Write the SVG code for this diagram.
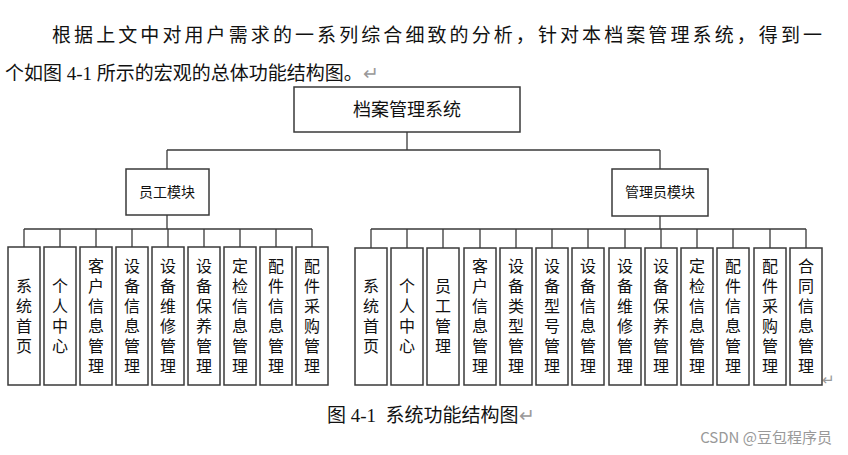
<svg xmlns="http://www.w3.org/2000/svg" width="848" height="455" viewBox="0 0 848 455">
<style>
.b{fill:#fff;stroke:#3a3a3a;stroke-width:1.5}
.c{fill:none;stroke:#3a3a3a;stroke-width:1.3}
.t{font-family:"Liberation Serif","Noto Sans CJK SC",serif;fill:#111}
.l{font-family:"Noto Sans CJK SC",sans-serif;font-size:16px;fill:#111;text-anchor:middle;writing-mode:vertical-rl;letter-spacing:4px}
.m{font-family:"Noto Sans CJK SC",sans-serif;fill:#111;text-anchor:middle}
</style>
<rect width="848" height="455" fill="#fff"/>
<text class="t" x="52" y="42" font-size="19" textLength="770">根据上文中对用户需求的一系列综合细致的分析，针对本档案管理系统，得到一</text>
<text class="t" x="5" y="80" font-size="19">个如图 4-1 所示的宏观的总体功能结构图。<tspan fill="#999">↵</tspan></text>
<text class="t" x="327" y="422" font-size="19" xml:space="preserve">图 4-1  系统功能结构图<tspan fill="#999">↵</tspan></text>
<text x="832" y="443" font-family="Noto Sans CJK SC,sans-serif" font-size="15" fill="#999" text-anchor="end">CSDN @豆包程序员</text>
<text x="822" y="385" font-family="Liberation Serif,serif" font-size="15" fill="#999">↵</text>
<g id="connectors" class="c">
<path d="M407 132V150M167 150H660M167 150V169M660 150V169"/>
<path d="M167 215V229M24 229H312"/>
<path d="M24 229V247M60 229V247M96 229V247M132 229V247M168 229V247M204 229V247M240 229V247M276 229V247M312 229V247"/>
<path d="M660 216V229M371 229H806"/>
<path d="M371 229V248M407 229V248M443 229V248M480 229V248M516 229V248M552 229V248M588 229V248M625 229V248M661 229V248M697 229V248M733 229V248M770 229V248M806 229V248"/>
</g>
<g id="root"><rect class="b" x="294" y="87" width="226" height="45"/><text class="m" x="407" y="116" font-size="18">档案管理系统</text></g>
<g id="emp"><rect class="b" x="126" y="169" width="83" height="46"/><text class="m" x="167" y="197" font-size="14">员工模块</text></g>
<g id="adm"><rect class="b" x="612" y="169" width="96" height="47"/><text class="m" x="660" y="197" font-size="14">管理员模块</text></g>
<g id="L1"><rect class="b" x="8" y="247" width="32" height="138"/><text class="l" x="24" y="318">系统首页</text></g>
<g id="L2"><rect class="b" x="44" y="247" width="32" height="138"/><text class="l" x="60" y="318">个人中心</text></g>
<g id="L3"><rect class="b" x="80" y="247" width="32" height="138"/><text class="l" x="96" y="318">客户信息管理</text></g>
<g id="L4"><rect class="b" x="116" y="247" width="32" height="138"/><text class="l" x="132" y="318">设备信息管理</text></g>
<g id="L5"><rect class="b" x="152" y="247" width="32" height="138"/><text class="l" x="168" y="318">设备维修管理</text></g>
<g id="L6"><rect class="b" x="188" y="247" width="32" height="138"/><text class="l" x="204" y="318">设备保养管理</text></g>
<g id="L7"><rect class="b" x="224" y="247" width="32" height="138"/><text class="l" x="240" y="318">定检信息管理</text></g>
<g id="L8"><rect class="b" x="260" y="247" width="32" height="138"/><text class="l" x="276" y="318">配件信息管理</text></g>
<g id="L9"><rect class="b" x="296" y="247" width="32" height="138"/><text class="l" x="312" y="318">配件采购管理</text></g>
<g id="R1"><rect class="b" x="355" y="248" width="32" height="137"/><text class="l" x="371" y="318">系统首页</text></g>
<g id="R2"><rect class="b" x="391" y="248" width="32" height="137"/><text class="l" x="407" y="318">个人中心</text></g>
<g id="R3"><rect class="b" x="427" y="248" width="32" height="137"/><text class="l" x="443" y="318">员工管理</text></g>
<g id="R4"><rect class="b" x="464" y="248" width="32" height="137"/><text class="l" x="480" y="318">客户信息管理</text></g>
<g id="R5"><rect class="b" x="500" y="248" width="32" height="137"/><text class="l" x="516" y="318">设备类型管理</text></g>
<g id="R6"><rect class="b" x="536" y="248" width="32" height="137"/><text class="l" x="552" y="318">设备型号管理</text></g>
<g id="R7"><rect class="b" x="572" y="248" width="32" height="137"/><text class="l" x="588" y="318">设备信息管理</text></g>
<g id="R8"><rect class="b" x="609" y="248" width="32" height="137"/><text class="l" x="625" y="318">设备维修管理</text></g>
<g id="R9"><rect class="b" x="645" y="248" width="32" height="137"/><text class="l" x="661" y="318">设备保养管理</text></g>
<g id="R10"><rect class="b" x="681" y="248" width="32" height="137"/><text class="l" x="697" y="318">定检信息管理</text></g>
<g id="R11"><rect class="b" x="717" y="248" width="32" height="137"/><text class="l" x="733" y="318">配件信息管理</text></g>
<g id="R12"><rect class="b" x="754" y="248" width="32" height="137"/><text class="l" x="770" y="318">配件采购管理</text></g>
<g id="R13"><rect class="b" x="790" y="248" width="32" height="137"/><text class="l" x="806" y="318">合同信息管理</text></g>
</svg>
